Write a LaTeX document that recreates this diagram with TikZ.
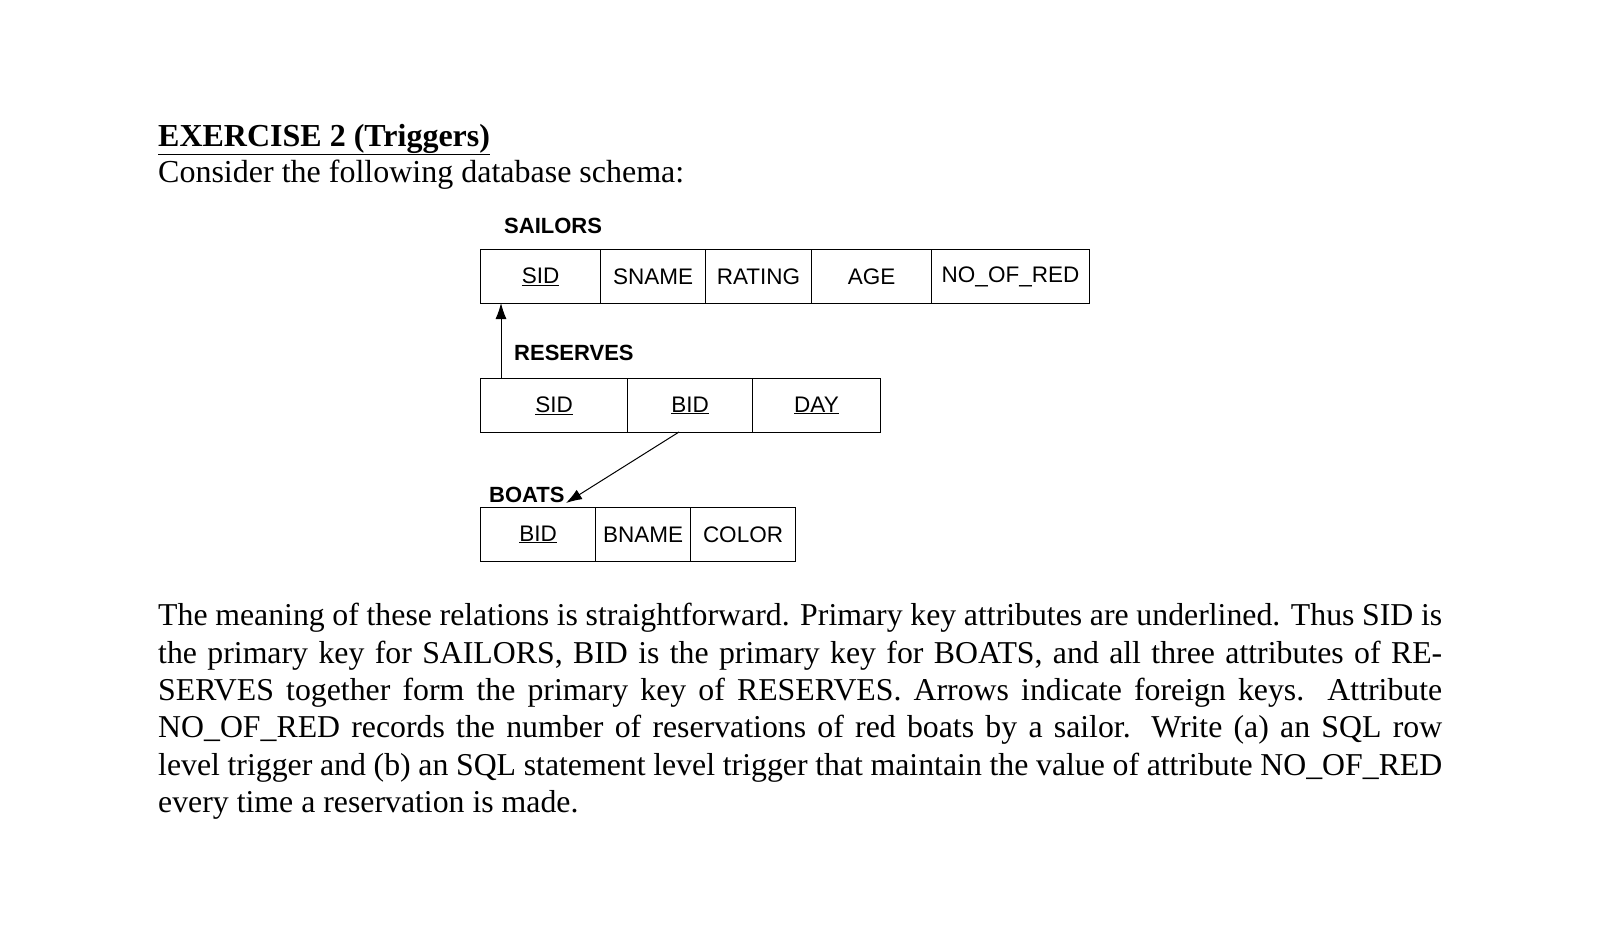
\documentclass[tikz,border=0pt]{standalone}
\usepackage{fontspec}
\setmainfont{Liberation Serif}
\newfontfamily\sansf{Liberation Sans}
\usetikzlibrary{arrows.meta}
\begin{document}
\begin{tikzpicture}[x=1pt,y=-1pt,
  cell/.style={draw,line width=1pt,minimum height=54pt,inner sep=0pt,font=\sansf\fontsize{22.5}{26}\selectfont,anchor=north west},
  lbl/.style={font=\sansf\bfseries\fontsize{22}{25}\selectfont,anchor=west,inner sep=0pt},
  fk/.style={line width=1pt,-{Latex[length=16pt,width=11pt]}}]
\useasboundingbox (0,0) rectangle (1608,951);
\node[anchor=base west,inner sep=0pt,font=\bfseries\fontsize{32}{36}\selectfont] (title) at (158,146) {\underline{EXERCISE 2 (Triggers)}};
\node[anchor=base west,inner sep=0pt,font=\fontsize{32}{36}\selectfont] (cons) at (158,182) {Consider the following database schema:};
% SAILORS
\node[lbl] (ls) at (504,226) {SAILORS};
\node[cell,minimum width=120pt] (s1) at (480,249) {\underline{SID}};
\node[cell,minimum width=105pt] (s2) at (600,249) {SNAME};
\node[cell,minimum width=106pt] (s3) at (705,249) {RATING};
\node[cell,minimum width=120pt] (s4) at (811,249) {AGE};
\node[cell,minimum width=158pt] (s5) at (931,249) {NO\_OF\_RED};
% RESERVES
\node[lbl] (lr) at (514,353) {RESERVES};
\node[cell,minimum width=147pt] (r1) at (480,378) {\underline{SID}};
\node[cell,minimum width=125pt] (r2) at (627,378) {\underline{BID}};
\node[cell,minimum width=128pt] (r3) at (752,378) {\underline{DAY}};
% BOATS
\node[lbl] (lb) at (489,495) {BOATS};
\node[cell,minimum width=115pt] (b1) at (480,507) {\underline{BID}};
\node[cell,minimum width=95pt] (b2) at (595,507) {BNAME};
\node[cell,minimum width=105pt] (b3) at (690,507) {COLOR};
\coordinate (rt) at (501,378);
\coordinate (st) at (501,303);
\coordinate (bf) at (679,432);
\coordinate (bt) at (566,503);
\draw[fk] (rt) -- (st);
\draw[fk] (bf) -- (bt);
\node[anchor=north west,inner sep=0pt,text width=1284pt,align=justify,font=\fontsize{31.8}{37.4}\selectfont] (body) at (158,603)
{The meaning of these relations is straightforward. Primary key attributes are underlined. Thus SID is the primary key for SAILORS, BID is the primary key for BOATS, and all three attributes of RESERVES together form the primary key of RESERVES. Arrows indicate foreign keys. Attribute NO\_OF\_RED records the number of reservations of red boats by a sailor. Write (a) an SQL row level trigger and (b) an SQL statement level trigger that maintain the value of attribute NO\_OF\_RED every time a reservation is made.};
\end{tikzpicture}
\end{document}
